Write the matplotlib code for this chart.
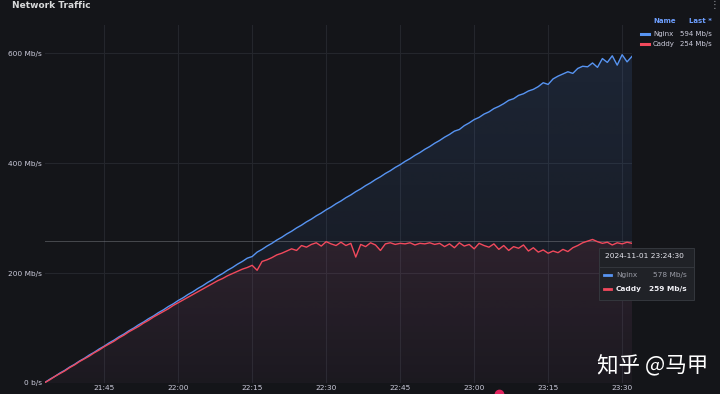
import numpy as np
import pandas as pd
import matplotlib.pyplot as plt
import matplotlib.dates as mdates
from matplotlib.colors import to_rgb
from matplotlib.patches import Rectangle
from matplotlib.lines import Line2D

plt.rcParams['font.family'] = ['DejaVu Sans']

# one sample per minute, 21:33 .. 23:32
times = pd.date_range('2024-11-01 21:33', periods=120, freq='1min')

nginx = [1, 7, 12, 18, 23, 29, 34, 40, 45, 51,
         56, 62, 67, 73, 78, 84, 89, 95, 100, 106,
         111, 117, 122, 128, 133, 139, 144, 150, 155, 161,
         166, 172, 177, 183, 188, 194, 199, 205, 210, 216,
         221, 227, 230, 238, 243, 249, 254, 260, 265, 271,
         276, 282, 287, 293, 298, 304, 309, 315, 320, 326,
         331, 337, 342, 348, 353, 359, 364, 370, 375, 381,
         386, 392, 397, 403, 408, 414, 419, 425, 430, 436,
         441, 447, 452, 458, 461, 468, 473, 479, 483, 489,
         493, 499, 503, 508, 514, 517, 523, 526, 531, 534,
         539, 546, 543, 553, 558, 562, 566, 563, 572, 576,
         575, 582, 574, 590, 583, 595, 578, 597, 584, 594]

caddy = [1, 6, 12, 17, 22, 28, 33, 39, 44, 49,
         55, 60, 66, 71, 76, 82, 87, 93, 98, 103,
         109, 114, 120, 125, 130, 135, 141, 146, 151, 156,
         161, 166, 171, 176, 181, 186, 190, 195, 199, 203,
         207, 210, 214, 205, 221, 224, 228, 233, 236, 240,
         244, 241, 250, 247, 252, 255, 249, 257, 253, 250,
         256, 250, 254, 229, 252, 248, 255, 251, 241, 253,
         255, 252, 254, 253, 255, 251, 254, 253, 255, 252,
         254, 248, 253, 246, 255, 249, 252, 244, 254, 250,
         247, 253, 243, 250, 241, 248, 245, 251, 240, 246,
         238, 242, 236, 240, 237, 243, 239, 246, 250, 255,
         258, 261, 257, 254, 256, 251, 255, 253, 256, 254]

series_names = ['Nginx', 'Caddy']
y_ticks = [0, 200, 400, 600]
y_tick_labels = ['0 b/s', '200 Mb/s', '400 Mb/s', '600 Mb/s']
hover_time = '2024-11-01 23:24:30'
hover_values = [578, 259]
annotation_time = '2024-11-01 23:05'

BG = '#141519'
TXT = '#ccccdc'
BLUE = '#5794f2'
RED = '#f2495c'
W, H = 720, 394


def fx(px):
    return px / W


def fy(py):
    return 1 - py / H


def gradient_fill(ax, x, y, color, alpha_top, z):
    xn = mdates.date2num(x)
    poly = ax.fill_between(xn, 0, y, color='none', lw=0)
    path = poly.get_paths()[0]
    rgba = np.zeros((200, 1, 4))
    rgba[:, :, :3] = to_rgb(color)
    rgba[:, 0, 3] = np.linspace(0.03, alpha_top, 200)
    im = ax.imshow(rgba, aspect='auto', origin='lower', zorder=z,
                   extent=[xn.min(), xn.max(), 0, max(y)], interpolation='bilinear')
    im.set_clip_path(path, transform=ax.transData)


fig = plt.figure(figsize=(7.2, 3.94), dpi=100, facecolor=BG)
ax = fig.add_axes([fx(45), 11 / H, 587 / W, 358 / H], facecolor=BG)

gradient_fill(ax, times, nginx, BLUE, 0.13, 1)
gradient_fill(ax, times, caddy, RED, 0.1, 2)
ax.plot(times, nginx, color=BLUE, lw=1.0, zorder=4)
ax.plot(times, caddy, color=RED, lw=1.0, zorder=5)

ax.axhline(hover_values[1], color='#7a7d84', lw=0.7, alpha=0.5, zorder=3)

ax.set_xlim(times[0], times[-1])
ax.set_ylim(0, 651)
ax.set_yticks(y_ticks, y_tick_labels)
ax.xaxis.set_major_locator(mdates.MinuteLocator(byminute=[0, 15, 30, 45]))
ax.xaxis.set_major_formatter(mdates.DateFormatter('%H:%M'))
ax.tick_params(axis='both', length=0, labelsize=5.3, labelcolor=TXT)
ax.tick_params(axis='x', pad=1.5)
ax.tick_params(axis='y', pad=2)
ax.grid(color='#24262c', lw=0.8)
ax.set_axisbelow(True)
for s in ax.spines.values():
    s.set_visible(False)

# annotation marker on the time axis
ax.plot([pd.Timestamp(annotation_time)], [-0.03], marker='o', ms=6, color='#e0245e',
        transform=ax.get_xaxis_transform(), clip_on=False, zorder=6)

# panel title
fig.text(fx(12), fy(5), 'Network Traffic', color='#d8d9da', fontsize=6.5,
         fontweight='bold', va='center', ha='left')
fig.text(fx(714), fy(5), '\u22ee', color='#9a9ca3', fontsize=7, va='center', ha='center')

# legend table
fig.text(fx(653), fy(21), 'Name', color='#6e9fff', fontsize=5, fontweight='bold', va='center')
fig.text(fx(712), fy(21), 'Last *', color='#6e9fff', fontsize=5, fontweight='bold',
         va='center', ha='right')
for i, (name, vals, col) in enumerate(zip(series_names, [nginx, caddy], [BLUE, RED])):
    yy = fy(34 + 10 * i)
    fig.add_artist(Line2D([fx(641), fx(649)], [yy, yy], color=col, lw=2.2))
    fig.text(fx(653), yy, name, color=TXT, fontsize=5, va='center')
    fig.text(fx(712), yy, f'{vals[-1]} Mb/s', color=TXT, fontsize=5, va='center', ha='right')

# hover tooltip
fig.add_artist(Rectangle((fx(599), fy(300)), 95 / W, 52 / H, facecolor='#202227',
                         edgecolor='#34373d', lw=0.7))
fig.text(fx(605), fy(256), hover_time, color='#e6e6ee', fontsize=5.4, va='center')
fig.add_artist(Line2D([fx(599), fx(694)], [fy(267), fy(267)], color='#34373d', lw=0.7))
for i, (name, val, col) in enumerate(zip(series_names, hover_values, [BLUE, RED])):
    yy = fy(275 + 14 * i)
    bold = 'bold' if i == 1 else 'normal'
    tc = '#f0f0f5' if i == 1 else '#9a9ca6'
    fig.add_artist(Line2D([fx(604), fx(611)], [yy, yy], color=col, lw=2.0))
    fig.text(fx(616), yy, name, color=tc, fontsize=5.3, fontweight=bold, va='center')
    fig.text(fx(687), yy, f'{val} Mb/s', color=tc, fontsize=5.3, fontweight=bold,
             va='center', ha='right')

# watermark
fig.text(fx(597), fy(366), '知乎 @马甲', color='white', fontsize=15.5,
         family=['Noto Sans CJK SC', 'DejaVu Sans'], va='center', ha='left')

fig.savefig('out.png', dpi=100, facecolor=BG)
